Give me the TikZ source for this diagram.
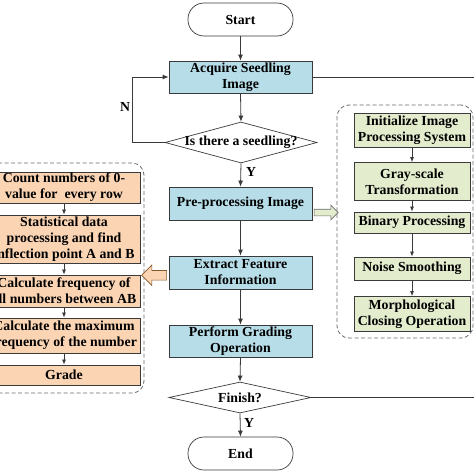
\documentclass[tikz,border=0pt]{standalone}
\usepackage{fontspec}
\setmainfont{Liberation Serif}
\usetikzlibrary{shapes.geometric,shapes.arrows,calc,arrows.meta}
\definecolor{blueF}{HTML}{B7DDE8}
\definecolor{greenF}{HTML}{E3ECCD}
\definecolor{orangeF}{HTML}{FBD4B4}
\definecolor{edge}{HTML}{3A3A3A}
\definecolor{dashc}{HTML}{6A6A6A}
\begin{document}
\begin{tikzpicture}[x=1pt,y=-1pt,
  font=\fontsize{13.8}{16}\selectfont\bfseries,
  term/.style={draw=edge, line width=0.7pt, rounded corners=16pt, minimum width=105pt, minimum height=33pt, inner sep=0pt},
  proc/.style={draw=edge, fill=blueF, line width=0.8pt, minimum width=143pt, inner sep=0pt, align=center},
  gbox/.style={draw=edge, fill=greenF, line width=0.8pt, minimum width=116pt, inner sep=0pt, align=center},
  obox/.style={draw=edge, fill=orangeF, line width=0.8pt, minimum width=152pt, inner sep=0pt, align=center},
  dec/.style={diamond, draw=edge, line width=0.7pt, inner sep=0pt},
  arr/.style={-{Latex[length=6pt,width=5pt]}, draw=edge, line width=0.8pt},
  sarr/.style={-{Latex[length=5pt,width=4pt]}, draw=edge, line width=0.7pt},
  line/.style={draw=edge, line width=0.8pt},
  dbox/.style={draw=dashc, line width=0.8pt, dash pattern=on 4pt off 2.5pt, rounded corners=12pt, inner sep=0pt},
  lbl/.style={inner sep=0pt}
]
\useasboundingbox (0,0) rectangle (474,474);
\clip (0,0) rectangle (474,474);

% group frames
\node[dbox, minimum width=136pt, minimum height=233pt] (rgrp) at (405,221.5) {};
\node[dbox, minimum width=164pt, minimum height=230pt] (lgrp) at (62,278) {};

% main flow
\node[term] (start) at (240.5,19.5) {Start};
\node[proc, minimum height=32pt] (acq) at (240.5,77) {Acquire Seedling\\Image};
\node[dec, minimum width=152pt, minimum height=41pt] (d1) at (241,142.5) {};
\node[lbl] (d1t) at (d1) {Is there a seedling?};
\node[proc, minimum height=33pt] (pre) at (240.5,203.5) {Pre-processing Image};
\node[proc, minimum height=33pt] (ext) at (240.5,272.5) {Extract Feature\\Information};
\node[proc, minimum height=32pt] (grd) at (240.5,341) {Perform Grading\\Operation};
\node[dec, minimum width=142pt, minimum height=31pt] (d2) at (240,397.5) {};
\node[lbl] (d2t) at (d2) {Finish?};
\node[term] (end) at (240.5,453.5) {End};

% right group
\node[gbox, minimum height=34pt] (g1) at (412,130) {Initialize Image\\Processing System};
\node[gbox, minimum height=38pt] (g2) at (412,181.5) {Gray-scale\\Transformation};
\node[gbox, minimum height=21pt] (g3) at (412,222.5) {Binary Processing};
\node[gbox, minimum height=23pt] (g4) at (412,268.5) {Noise Smoothing};
\node[gbox, minimum height=35pt] (g5) at (412,314) {Morphological\\Closing Operation};

% left group
\node[obox, minimum height=31pt] (o1) at (64,187.5) {Count numbers of 0-\\value for\ \ every row};
\node[obox, minimum height=48pt] (o2) at (64,239) {Statistical data\\processing and find\\inflection point A and B};
\node[obox, minimum height=32pt] (o3) at (64,291) {Calculate frequency of\\all numbers between AB};
\node[obox, minimum height=35pt] (o4) at (64,335.5) {Calculate the maximum\\frequency of the number};
\node[obox, minimum height=20pt] (o5) at (64,375) {Grade};

% connectors main
\draw[arr] (start.south) -- (acq.north);
\draw[arr] (acq.south) -- (d1.north);
\draw[arr] (d1.south) -- (pre.north);
\draw[arr] (pre.south) -- (ext.north);
\draw[arr] (ext.south) -- (grd.north);
\draw[arr] (grd.south) -- (d2.north);
\draw[arr] (d2.south) -- (end.north);
\coordinate (nl) at (132,142.5);
\draw[arr] (d1.west) -- (nl) |- (acq.west);
\coordinate (r1) at (480,77);
\coordinate (r2) at (480,397.5);
\draw[line] (acq.east) -- (r1);
\draw[line] (d2.east) -- (r2);
\node[lbl] (nlab) at (125,107) {N};
\node[lbl] (y1) at (251,172) {Y};
\node[lbl] (y2) at (249,423) {Y};

% connectors right group
\draw[sarr] (g1.south) -- (g2.north);
\draw[sarr] (g2.south) -- (g3.north);
\draw[sarr] (g3.south) -- (g4.north);
\draw[sarr] (g4.south) -- (g5.north);

% connectors left group
\draw[sarr] (o1.south) -- (o2.north);
\draw[sarr] (o2.south) -- (o3.north);
\draw[sarr] (o3.south) -- (o4.north);
\draw[sarr] (o4.south) -- (o5.north);

% hollow arrows
\node[single arrow, draw=dashc, fill=greenF, line width=0.6pt, inner sep=3pt,
      single arrow head extend=4pt, minimum height=24pt] (ha1)
      at ($(pre.east)!0.5!(rgrp.west)$) {};
\node[single arrow, shape border rotate=180, draw=brown!70!black, fill=orangeF, line width=0.6pt,
      inner sep=4.5pt, single arrow head extend=5.5pt, minimum height=25pt] (ha2)
      at ($(ext.west)!0.5!(lgrp.east)$) {};
\end{tikzpicture}
\end{document}
